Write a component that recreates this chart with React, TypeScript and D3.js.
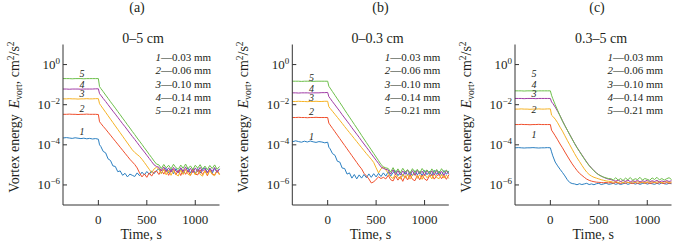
import React from "react";
import * as d3 from "d3";

// ---------- data ----------
const TIME = [-365,-330,-300,-270,-240,-210,-180,-150,-120,-90,-60,-30,0,12,
  25,50,75,100,125,150,175,200,225,250,275,300,325,350,375,400,425,450,475,500,525,550,575,600,
  625,650,675,700,725,750,775,800,825,850,875,900,925,950,975,1000,1025,1050,1075,1100,1125,1150,1175,1200,1225,1250];

// log10 of vortex energy (cm^2/s^2)
const A1 = [-3.66,-3.64,-3.66,-3.68,-3.65,-3.67,-3.69,-3.67,-3.70,-3.68,-3.71,-3.69,-3.72,-4.00,
  -4.08,-4.33,-4.40,-4.70,-4.78,-5.05,-5.08,-5.34,-5.30,-5.52,-5.42,-5.60,-5.46,-5.52,-5.58,-5.40,-5.54,-5.36,-5.50,-5.33,-5.47,-5.30,-5.44,-5.28,
  -5.20,-5.42,-5.22,-5.18,-5.40,-5.21,-5.44,-5.19,-5.39,-5.17,-5.43,-5.22,-5.16,-5.40,-5.20,-5.44,-5.18,-5.41,-5.21,-5.15,-5.39,-5.19,-5.42,-5.17,-5.38,-5.20];
const A2 = [-2.48,-2.48,-2.47,-2.48,-2.48,-2.49,-2.48,-2.48,-2.47,-2.48,-2.48,-2.48,-2.49,-2.85,
  -2.93,-3.08,-3.22,-3.37,-3.52,-3.67,-3.82,-3.97,-4.12,-4.27,-4.42,-4.57,-4.72,-4.85,-4.98,-5.15,-5.40,-5.60,-5.45,-5.62,-5.40,-5.56,-5.36,-5.30,
  -5.48,-5.24,-5.46,-5.26,-5.52,-5.28,-5.22,-5.49,-5.27,-5.53,-5.24,-5.47,-5.28,-5.52,-5.22,-5.46,-5.50,-5.25,-5.48,-5.29,-5.54,-5.26,-5.45,-5.50,-5.27,-5.47];
const A3 = [-1.71,-1.71,-1.70,-1.71,-1.71,-1.72,-1.71,-1.71,-1.70,-1.71,-1.71,-1.70,-1.70,-1.95,
  -2.04,-2.21,-2.38,-2.55,-2.72,-2.89,-3.06,-3.23,-3.40,-3.57,-3.74,-3.91,-4.08,-4.25,-4.38,-4.48,-4.58,-4.72,-4.88,-5.05,-5.22,-5.40,-5.20,-5.12,
  -5.22,-5.45,-5.20,-5.50,-5.26,-5.52,-5.28,-5.47,-5.55,-5.25,-5.48,-5.22,-5.46,-5.53,-5.27,-5.50,-5.24,-5.47,-5.56,-5.28,-5.51,-5.25,-5.48,-5.54,-5.29,-5.50];
const A4 = [-1.22,-1.22,-1.23,-1.22,-1.22,-1.22,-1.23,-1.22,-1.22,-1.22,-1.22,-1.21,-1.21,-1.45,
  -1.53,-1.69,-1.84,-2.00,-2.16,-2.32,-2.47,-2.63,-2.79,-2.95,-3.10,-3.26,-3.42,-3.58,-3.73,-3.89,-4.05,-4.21,-4.36,-4.52,-4.68,-4.84,-5.00,-5.08,
  -5.12,-5.30,-5.10,-5.33,-5.15,-5.36,-5.12,-5.31,-5.38,-5.14,-5.33,-5.10,-5.35,-5.17,-5.39,-5.15,-5.34,-5.12,-5.32,-5.18,-5.40,-5.16,-5.33,-5.13,-5.37,-5.20];
const A5 = [-0.70,-0.70,-0.70,-0.71,-0.70,-0.70,-0.70,-0.71,-0.70,-0.70,-0.70,-0.70,-0.70,-1.10,
  -1.19,-1.35,-1.52,-1.68,-1.85,-2.01,-2.17,-2.34,-2.50,-2.67,-2.83,-3.00,-3.16,-3.33,-3.49,-3.66,-3.82,-3.98,-4.15,-4.31,-4.48,-4.64,-4.81,-4.96,
  -5.00,-5.18,-4.98,-5.15,-5.02,-5.20,-4.97,-5.14,-5.22,-5.01,-5.17,-4.96,-5.19,-5.05,-5.23,-5.02,-5.16,-4.99,-5.21,-5.06,-5.24,-5.03,-5.18,-5.00,-5.22,-5.08];

const B1 = [-3.85,-3.80,-3.84,-3.87,-3.82,-3.86,-3.81,-3.85,-3.88,-3.84,-3.86,-3.90,-3.87,-4.12,
  -4.20,-4.44,-4.52,-4.82,-4.86,-5.16,-5.18,-5.46,-5.40,-5.66,-5.48,-5.70,-5.50,-5.66,-5.48,-5.64,-5.45,-5.62,-5.44,-5.60,-5.42,-5.58,-5.40,-5.56,
  -5.34,-5.56,-5.38,-5.30,-5.54,-5.36,-5.57,-5.31,-5.52,-5.34,-5.55,-5.29,-5.50,-5.33,-5.54,-5.28,-5.49,-5.32,-5.53,-5.27,-5.48,-5.31,-5.52,-5.28,-5.47,-5.30];
const B2 = [-2.64,-2.64,-2.63,-2.64,-2.64,-2.65,-2.64,-2.64,-2.63,-2.64,-2.64,-2.64,-2.64,-2.92,
  -3.01,-3.18,-3.35,-3.52,-3.69,-3.86,-4.03,-4.20,-4.37,-4.54,-4.71,-4.88,-5.05,-5.20,-5.42,-5.55,-5.70,-5.90,-5.85,-5.72,-5.60,-5.68,-5.62,-5.70,
  -5.52,-5.74,-5.80,-5.55,-5.76,-5.58,-5.82,-5.54,-5.75,-5.50,-5.72,-5.79,-5.53,-5.74,-5.51,-5.70,-5.78,-5.55,-5.49,-5.71,-5.54,-5.48,-5.69,-5.52,-5.72,-5.50];
const B3 = [-1.84,-1.84,-1.83,-1.84,-1.84,-1.85,-1.84,-1.84,-1.83,-1.84,-1.84,-1.83,-1.83,-2.10,
  -2.18,-2.33,-2.48,-2.63,-2.78,-2.93,-3.09,-3.24,-3.39,-3.54,-3.69,-3.84,-3.99,-4.14,-4.29,-4.44,-4.58,-4.72,-4.88,-5.15,-5.40,-5.20,-5.10,-5.25,
  -5.42,-5.60,-5.68,-5.44,-5.62,-5.70,-5.46,-5.66,-5.48,-5.71,-5.50,-5.43,-5.67,-5.49,-5.72,-5.45,-5.64,-5.50,-5.70,-5.44,-5.63,-5.69,-5.47,-5.66,-5.51,-5.68];
const B4 = [-1.41,-1.41,-1.42,-1.41,-1.41,-1.41,-1.42,-1.41,-1.41,-1.41,-1.40,-1.40,-1.39,-1.60,
  -1.68,-1.85,-2.01,-2.17,-2.33,-2.50,-2.66,-2.82,-2.98,-3.15,-3.31,-3.47,-3.63,-3.80,-3.96,-4.12,-4.28,-4.45,-4.61,-4.77,-4.93,-5.10,-5.18,-5.22,
  -5.26,-5.46,-5.24,-5.49,-5.28,-5.51,-5.30,-5.47,-5.25,-5.50,-5.29,-5.52,-5.27,-5.46,-5.31,-5.53,-5.26,-5.48,-5.30,-5.51,-5.27,-5.49,-5.32,-5.52,-5.28,-5.47];
const B5 = [-0.83,-0.83,-0.83,-0.84,-0.83,-0.83,-0.83,-0.84,-0.83,-0.83,-0.83,-0.83,-0.83,-1.08,
  -1.17,-1.35,-1.53,-1.71,-1.89,-2.07,-2.26,-2.44,-2.62,-2.80,-2.98,-3.16,-3.34,-3.53,-3.71,-3.89,-4.07,-4.25,-4.43,-4.61,-4.79,-4.98,-5.10,-5.15,
  -5.18,-5.36,-5.14,-5.38,-5.20,-5.40,-5.17,-5.35,-5.24,-5.42,-5.19,-5.37,-5.22,-5.41,-5.18,-5.36,-5.25,-5.43,-5.20,-5.38,-5.23,-5.42,-5.19,-5.37,-5.26,-5.40];

const C1 = [-4.15,-4.14,-4.15,-4.16,-4.15,-4.15,-4.14,-4.15,-4.16,-4.15,-4.15,-4.14,-4.15,-4.35,
  -4.55,-4.86,-5.05,-5.22,-5.38,-5.55,-5.74,-5.88,-5.93,-5.95,-5.99,-5.94,-5.98,-5.95,-5.92,-5.98,-5.95,-5.99,-5.94,-5.92,-5.98,-5.95,-5.91,-5.97,
  -5.95,-5.92,-5.97,-5.93,-5.98,-5.94,-5.91,-5.97,-5.93,-5.90,-5.96,-5.92,-5.97,-5.93,-5.90,-5.96,-5.92,-5.94,-5.97,-5.92,-5.96,-5.90,-5.94,-5.96,-5.92,-5.94];
const C2 = [-2.99,-2.99,-2.98,-2.99,-2.99,-3.00,-2.99,-2.99,-2.98,-2.99,-2.99,-2.99,-2.99,-3.27,
  -3.36,-3.55,-3.75,-3.96,-4.15,-4.36,-4.56,-4.76,-4.95,-5.12,-5.28,-5.42,-5.52,-5.62,-5.71,-5.77,-5.81,-5.84,-5.86,-5.87,-5.88,-5.89,-5.88,-5.90,
  -5.88,-5.92,-5.87,-5.90,-5.93,-5.88,-5.92,-5.87,-5.90,-5.93,-5.88,-5.92,-5.90,-5.87,-5.92,-5.88,-5.93,-5.90,-5.87,-5.92,-5.88,-5.90,-5.93,-5.88,-5.92,-5.90];
const C3 = [-2.22,-2.22,-2.21,-2.22,-2.22,-2.23,-2.22,-2.22,-2.21,-2.22,-2.22,-2.21,-2.21,-2.52,
  -2.58,-2.72,-2.90,-3.12,-3.32,-3.55,-3.78,-4.00,-4.22,-4.44,-4.65,-4.83,-5.02,-5.20,-5.36,-5.48,-5.56,-5.62,-5.66,-5.70,-5.74,-5.77,-5.80,-5.82,
  -5.83,-5.87,-5.82,-5.88,-5.84,-5.89,-5.83,-5.87,-5.90,-5.84,-5.88,-5.83,-5.89,-5.85,-5.90,-5.84,-5.88,-5.83,-5.89,-5.85,-5.84,-5.89,-5.85,-5.83,-5.88,-5.85];
const C4 = [-1.69,-1.69,-1.69,-1.70,-1.69,-1.69,-1.69,-1.70,-1.69,-1.69,-1.69,-1.69,-1.69,-1.86,
  -1.94,-2.12,-2.33,-2.55,-2.80,-3.04,-3.27,-3.49,-3.71,-3.93,-4.13,-4.32,-4.50,-4.68,-4.86,-5.02,-5.16,-5.29,-5.40,-5.49,-5.56,-5.62,-5.67,-5.71,
  -5.73,-5.78,-5.81,-5.76,-5.83,-5.78,-5.82,-5.76,-5.84,-5.79,-5.83,-5.77,-5.85,-5.79,-5.83,-5.76,-5.84,-5.79,-5.83,-5.77,-5.85,-5.80,-5.84,-5.78,-5.83,-5.79];
const C5 = [-1.31,-1.31,-1.31,-1.32,-1.31,-1.31,-1.31,-1.32,-1.31,-1.31,-1.31,-1.31,-1.31,-1.53,
  -1.70,-2.00,-2.28,-2.56,-2.82,-3.05,-3.27,-3.50,-3.72,-3.94,-4.15,-4.33,-4.52,-4.70,-4.88,-5.04,-5.17,-5.30,-5.41,-5.50,-5.56,-5.61,-5.65,-5.68,
  -5.69,-5.75,-5.64,-5.76,-5.68,-5.78,-5.66,-5.74,-5.63,-5.77,-5.69,-5.73,-5.62,-5.76,-5.68,-5.72,-5.77,-5.65,-5.73,-5.62,-5.75,-5.68,-5.76,-5.69,-5.64,-5.73];

const LETTERS = ["(a)", "(b)", "(c)"];
const RANGES = ["0–5 cm", "0–0.3 cm", "0.3–5 cm"];
const SIZES = ["0.03 mm", "0.06 mm", "0.10 mm", "0.14 mm", "0.21 mm"];
const X_TICKS = [0, 500, 1000];
const Y_TICKS = [0, -2, -4, -6]; // exponents
const PANEL_SERIES = [[A1, A2, A3, A4, A5], [B1, B2, B3, B4, B5], [C1, C2, C3, C4, C5]];
// vertical position (log10 units) of the curve numbers 1..5 in each panel
const LABEL_LEVELS = [
  [-3.51, -2.38, -1.61, -1.16, -0.64],
  [-3.76, -2.52, -1.80, -1.39, -0.81],
  [-3.68, -2.43, -1.64, -1.19, -0.64],
];

// ---------- layout ----------
const COLORS = ["#2b7fc1", "#f04f2d", "#f6b325", "#a03ca6", "#6dbf4b"];
const PANEL_LEFT = [63, 292.3, 515];
const PANEL_W = 156.5;
const TOP = 44.5;
const BOTTOM = 205;
const TITLE_X = [143, 377.5, 601];
const LETTER_X = [137, 380.5, 597];
const FONT = "Liberation Serif, Times New Roman, serif";
const INK = "#231f20";

function Panel({ idx }: { idx: number }) {
  const left = PANEL_LEFT[idx];
  const x = d3.scaleLinear().domain([-365, 1250]).range([left, left + PANEL_W]);
  const y = d3.scaleLog().domain([1e-7, 1e1]).range([BOTTOM, TOP]);
  const line = d3
    .line<[number, number]>()
    .x((d) => x(d[0]))
    .y((d) => y(Math.pow(10, d[1])));
  const series = PANEL_SERIES[idx];
  return (
    <g>
      <text x={LETTER_X[idx]} y={12} textAnchor="middle" fontSize={14} fill={INK}>
        {LETTERS[idx]}
      </text>
      <text x={TITLE_X[idx]} y={42.7} textAnchor="middle" fontSize={14} fill={INK}>
        {RANGES[idx]}
      </text>
      {series.map((vals, i) => {
        const pts: [number, number][] = vals
          .map((v, k) => [TIME[k], v] as [number, number])
          .filter((p) => p[0] !== undefined);
        return (
          <path key={i} d={line(pts) || ""} fill="none" stroke={COLORS[i]} strokeWidth={1} strokeLinejoin="round" />
        );
      })}
      {/* axes */}
      <line x1={left} x2={left} y1={TOP} y2={BOTTOM} stroke="#333" strokeWidth={1} />
      <line x1={left} x2={left + PANEL_W} y1={BOTTOM} y2={BOTTOM} stroke="#333" strokeWidth={1} />
      {X_TICKS.map((t) => (
        <g key={t}>
          <line x1={x(t)} x2={x(t)} y1={BOTTOM} y2={BOTTOM - 5} stroke="#333" strokeWidth={1} />
          <text x={x(t)} y={223.5} textAnchor="middle" fontSize={13} fill={INK}>
            {t}
          </text>
        </g>
      ))}
      {Y_TICKS.map((e) => (
        <g key={e}>
          <line x1={left} x2={left + 4} y1={y(Math.pow(10, e))} y2={y(Math.pow(10, e))} stroke="#333" strokeWidth={1} />
          <text x={left - 3} y={y(Math.pow(10, e)) + 4.5} textAnchor="end" fontSize={13} fill={INK}>
            10
            <tspan dy={-5.5} fontSize={9}>
              {e === 0 ? "0" : "−" + Math.abs(e)}
            </tspan>
          </text>
        </g>
      ))}
      <text x={left + PANEL_W / 2} y={239} textAnchor="middle" fontSize={14} fill={INK}>
        Time, s
      </text>
      <text transform={`translate(${left - 44},117) rotate(-90)`} textAnchor="middle" fontSize={14} fill={INK}>
        Vortex energy
        <tspan dx={6} fontStyle="italic">E</tspan>
        <tspan fontSize={9.5} dy={3}>vort</tspan>
        <tspan dy={-3}>, cm</tspan>
        <tspan fontSize={9.5} dy={-5}>2</tspan>
        <tspan dy={5}>/s</tspan>
        <tspan fontSize={9.5} dy={-5}>2</tspan>
      </text>
      {/* curve numbers */}
      {LABEL_LEVELS[idx].map((lv, i) => (
        <text key={i} x={x(-168)} y={y(Math.pow(10, lv))} textAnchor="middle" fontSize={10} fontStyle="italic" fill={INK}>
          {i + 1}
        </text>
      ))}
      {/* legend */}
      {SIZES.map((s, i) => (
        <text key={s} x={left + 92.5} y={61 + i * 13.3} fontSize={11} fill={INK}>
          <tspan fontStyle="italic">{i + 1}</tspan>—{s}
        </text>
      ))}
    </g>
  );
}

export default function App() {
  return (
    <svg
      width={685}
      height={244}
      viewBox="0 0 685 244"
      fontFamily={FONT}
      style={{ position: "absolute", left: 0, top: 0, background: "#fff" }}
    >
      <rect width={685} height={244} fill="#fff" />
      {[0, 1, 2].map((i) => (
        <Panel key={i} idx={i} />
      ))}
    </svg>
  );
}
